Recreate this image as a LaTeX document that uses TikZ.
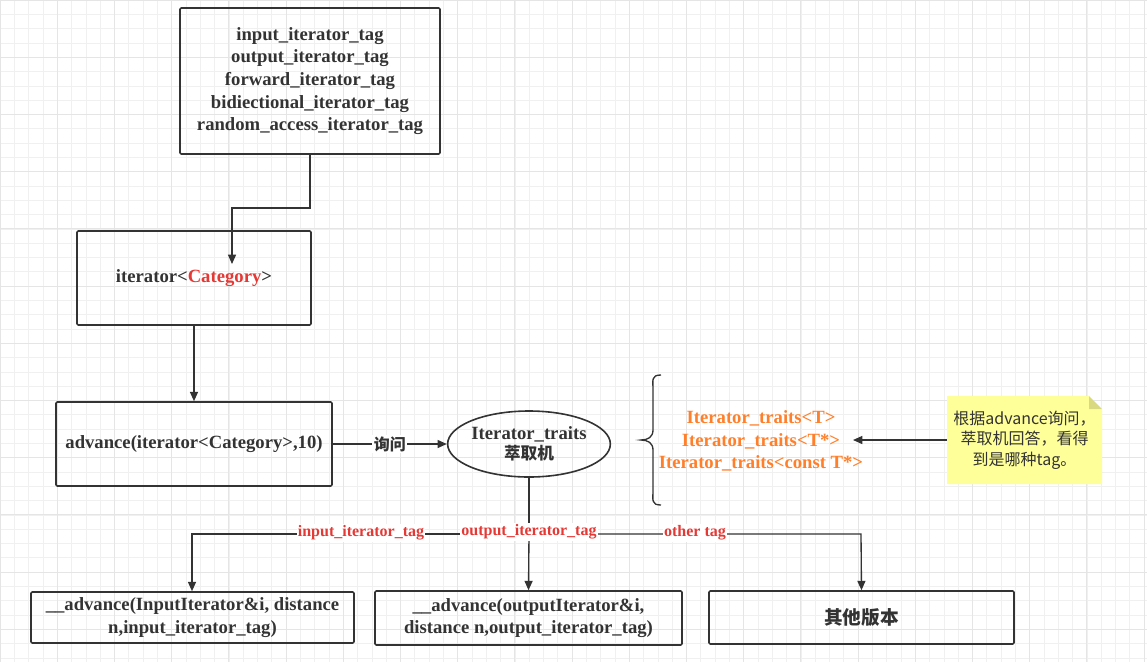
\documentclass[tikz,border=0pt]{standalone}
\usepackage{fontspec}
\setmainfont{Liberation Serif}
\newfontfamily\cjk{Noto Sans CJK SC}
\usetikzlibrary{shapes.geometric,arrows.meta}
\definecolor{redt}{HTML}{E53935}
\definecolor{oranget}{HTML}{FF7F2A}
\definecolor{notey}{HTML}{FFFF99}
\definecolor{linec}{HTML}{333333}
\tikzset{
 box/.style={draw=linec,line width=1.2pt,rounded corners=1pt,align=center,font=\bfseries\fontsize{14}{17}\selectfont,text=linec,inner sep=0pt},
 conn/.style={draw=linec,line width=1pt,-{Triangle[length=7pt,width=6pt]}},
 lab/.style={fill=white,inner sep=1pt,text=redt,font=\bfseries\fontsize{12}{14}\selectfont},
}
\begin{document}
\begin{tikzpicture}[x=0.75pt,y=-0.75pt]
\useasboundingbox (0,0) rectangle (1147,662);
\fill[white] (0,0) rectangle (1147,662);
\foreach \i in {0,...,80} {\draw[black!6,line width=0.4pt] (\i*14.3,0)--(\i*14.3,662);}
\foreach \j in {0,...,46} {\draw[black!6,line width=0.4pt] (0,\j*14.3)--(1147,\j*14.3);}
\foreach \i in {0,...,20} {\draw[black!10,line width=0.5pt] (\i*57.2,0)--(\i*57.2,662);}
\foreach \j in {0,...,12} {\draw[black!10,line width=0.5pt] (0,\j*57.2)--(1147,\j*57.2);}

\node[box,minimum width=260*0.75pt,minimum height=146*0.75pt] (tags) at (310,81) {input\_iterator\_tag\\output\_iterator\_tag\\forward\_iterator\_tag\\bidiectional\_iterator\_tag\\random\_access\_iterator\_tag};
\node[box,minimum width=234*0.75pt,minimum height=94*0.75pt] (iter) at (194,278) {iterator<\textcolor{redt}{Category}>};
\node[box,minimum width=276*0.75pt,minimum height=84*0.75pt] (adv) at (194,444) {advance(iterator<Category>,10)};
\node[draw=linec,line width=1.2pt,ellipse,minimum width=144*0.75pt,minimum height=66*0.75pt,inner sep=0pt,align=center,font=\bfseries\fontsize{14}{16}\selectfont,text=linec] (tr) at (529,444) {Iterator\_traits\\[-1pt]{\cjk\fontsize{12.5}{14}\selectfont 萃取机}};
\draw[linec,line width=1pt] (661,375) .. controls (651,375) and (653,380) .. (653,390) -- (653,430) .. controls (653,437) and (648,440) .. (641,440) .. controls (648,440) and (653,443) .. (653,450) -- (653,490) .. controls (653,500) and (651,505) .. (661,505);
\node[align=center,text=oranget,font=\bfseries\fontsize{14}{17}\selectfont] (tt) at (761,441) {Iterator\_traits<T>\\Iterator\_traits<T*>\\Iterator\_traits<const T*>};
\fill[notey] (947,396) -- (1089,396) -- (1102,409) -- (1102,484) -- (947,484) -- cycle;
\fill[black!15!notey] (1089,396) -- (1102,409) -- (1089,409) -- cycle;
\node[align=center,font=\cjk\fontsize{12}{15.5}\selectfont,text=linec] (note) at (1024.5,440) {根据advance询问，\\萃取机回答，看得\\到是哪种tag。};
\coordinate (noteL) at (947,440);
\coordinate (ttR) at (853,440);
\draw[conn] (noteL) -- (ttR);

\node[box,minimum width=323*0.75pt,minimum height=51*0.75pt] (b1) at (192.5,617.5) {\_\_advance(InputIterator\&i, distance\\n,input\_iterator\_tag)};
\node[box,minimum width=307*0.75pt,minimum height=54*0.75pt] (b2) at (528.5,618) {\_\_advance(outputIterator\&i,\\distance n,output\_iterator\_tag)};
\node[box,minimum width=305*0.75pt,minimum height=53*0.75pt] (b3) at (861.5,617.5) {{\cjk\bfseries 其他版本}};

\coordinate (iterIn) at (232,264);
\draw[conn] (tags.south) |- (310,208) -| (iterIn);
\draw[conn] (iter.south) -- (adv.north);
\draw[conn] (adv.east) -- node[lab,text=linec,font=\cjk\bfseries\fontsize{12}{14}\selectfont,pos=0.5]{询问} (tr.west);
\coordinate (sp) at (529,534);
\draw[linec,line width=1pt] (tr.south) -- (sp);
\draw[conn] (sp) -- (192,534) -- (b1.north -| 192,0);
\draw[conn] (sp) -- (b2.north);
\draw[conn] (sp) -- (861,534) -- (b3.north);
\node[lab] (l1) at (361,533) {input\_iterator\_tag};
\node[lab] (l2) at (529,532) {output\_iterator\_tag};
\node[lab] (l3) at (695,533) {other tag};
\end{tikzpicture}
\end{document}
